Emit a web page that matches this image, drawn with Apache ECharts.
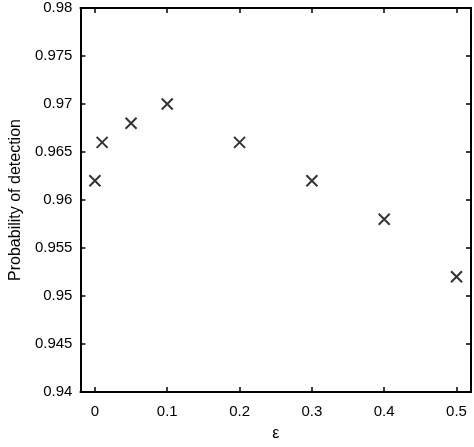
<!DOCTYPE html><html><head><meta charset="utf-8"><script src="https://cdn.jsdelivr.net/npm/echarts@6/dist/echarts.min.js"></script></head><body style="margin:0;background:#fff"><div id="c" style="width:474px;height:447px"></div><script>
const epsValues=[0,0.01,0.05,0.1,0.2,0.3,0.4,0.5];
const detection=[0.962,0.966,0.968,0.97,0.966,0.962,0.958,0.952];
const xTicks=[0,0.1,0.2,0.3,0.4,0.5];
const F='Liberation Sans';
const ax={axisLine:{show:true,onZero:false,lineStyle:{color:'#000',width:2}},axisTick:{inside:true,length:5,lineStyle:{color:'#000',width:1.5}},splitLine:{show:false},axisLabel:{color:'#000',fontFamily:F,fontSize:15}};
const xa=(pos,show)=>Object.assign({},ax,{type:'value',position:pos,min:-0.02,max:0.52,axisTick:Object.assign({},ax.axisTick,{customValues:xTicks}),axisLabel:Object.assign({},ax.axisLabel,{show:show,customValues:xTicks,margin:12})});
const ya=(pos,show)=>Object.assign({},ax,{type:'value',position:pos,min:0.94,max:0.98,interval:0.005,axisLabel:Object.assign({},ax.axisLabel,{show:show,margin:8,formatter:v=>String(+v.toFixed(3))})});
const X0=xa('bottom',true);X0.name='ε';X0.nameLocation='middle';X0.nameGap=34;X0.nameTextStyle={color:'#000',fontFamily:F,fontSize:16};
const Y0=ya('left',true);Y0.name='Probability of detection';Y0.nameLocation='middle';Y0.nameGap=56;Y0.nameTextStyle={color:'#000',fontFamily:F,fontSize:16};
const chart=echarts.init(document.getElementById('c'));
chart.setOption({animation:false,grid:{left:72,right:3,top:8,bottom:41},
xAxis:[X0,xa('top',false)],yAxis:[Y0,ya('right',false)],
series:[{type:'scatter',symbol:'path://M0,0L10,10M10,0L0,10',symbolSize:11,itemStyle:{color:'none',borderColor:'#000',borderWidth:2},data:epsValues.map((e,i)=>[e,detection[i]])}]});
</script></body></html>
